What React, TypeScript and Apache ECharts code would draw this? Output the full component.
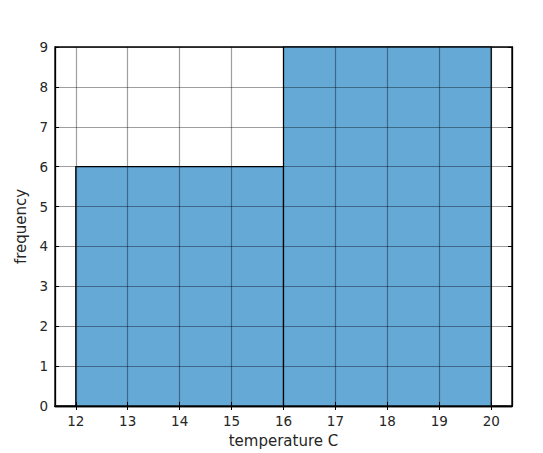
import { useEffect, useRef } from 'react';
import * as echarts from 'echarts';

const binEdges = [12, 16, 20];
const frequencies = [6, 9];
const xTicks = [12, 13, 14, 15, 16, 17, 18, 19, 20];
const yTicks = [0, 1, 2, 3, 4, 5, 6, 7, 8, 9];

const textColor = '#262626';
const font = 'DejaVu Sans';

export default function App() {
  const ref = useRef<HTMLDivElement | null>(null);

  useEffect(() => {
    if (!ref.current) return;
    const chart = echarts.init(ref.current, undefined, { renderer: 'svg' });
    const bins = frequencies.map((f, i) => [binEdges[i], binEdges[i + 1], f]);
    const grid = { left: 55, right: 31, top: 47, bottom: 45, show: true, borderColor: '#000', borderWidth: 1.3, backgroundColor: 'transparent' };
    const split = { show: true, lineStyle: { color: 'rgba(0,0,0,0.38)', width: 1.2 } };
    chart.setOption({
      animation: false,
      backgroundColor: '#fff',
      textStyle: { fontFamily: font },
      grid,
      xAxis: [
        {
          type: 'value', min: 11.6, max: 20.4, interval: 1, z: 10,
          name: 'temperature C', nameLocation: 'middle', nameGap: 27,
          nameTextStyle: { color: textColor, fontSize: 15, fontFamily: font },
          axisLine: { show: true, onZero: false, lineStyle: { color: '#000', width: 1.3 } },
          axisTick: { show: true, inside: true, length: 4, lineStyle: { color: '#000' }, customValues: xTicks },
          axisLabel: { color: textColor, fontSize: 13.5, margin: 8, fontFamily: font, customValues: xTicks },
          splitLine: split,
        },
        {
          type: 'value', position: 'top', min: 11.6, max: 20.4, z: 10,
          axisLine: { show: true, lineStyle: { color: '#000', width: 1.3 } },
          axisTick: { show: true, inside: true, length: 4, lineStyle: { color: '#000' }, customValues: xTicks },
          axisLabel: { show: false },
          splitLine: { show: false },
        },
      ],
      yAxis: [
        {
          type: 'value', min: 0, max: 9, interval: 1, z: 10,
          name: 'frequency', nameLocation: 'middle', nameGap: 21,
          nameTextStyle: { color: textColor, fontSize: 15, fontFamily: font },
          axisLine: { show: true, lineStyle: { color: '#000', width: 1.3 } },
          axisTick: { show: true, inside: true, length: 4, lineStyle: { color: '#000' } },
          axisLabel: { color: textColor, fontSize: 13.5, margin: 7, fontFamily: font, formatter: (v: number) => (yTicks.includes(v) ? String(v) : '') },
          splitLine: split,
        },
        {
          type: 'value', position: 'right', min: 0, max: 9, interval: 1, z: 10,
          axisLine: { show: true, lineStyle: { color: '#000', width: 1.3 } },
          axisTick: { show: true, inside: true, length: 4, lineStyle: { color: '#000' } },
          axisLabel: { show: false },
          splitLine: { show: false },
        },
      ],
      series: [
        {
          type: 'custom',
          z: 1,
          data: bins,
          encode: { x: [0, 1], y: 2 },
          renderItem: (_params: any, api: any) => {
            const p0 = api.coord([api.value(0), 0]);
            const p1 = api.coord([api.value(1), api.value(2)]);
            return {
              type: 'rect',
              shape: { x: p0[0], y: p1[1], width: p1[0] - p0[0], height: p0[1] - p1[1] },
              style: { fill: '#65a9d7', stroke: '#000', lineWidth: 1.2 },
            };
          },
        },
      ],
    });
    return () => chart.dispose();
  }, []);

  return <div ref={ref} style={{ position: 'fixed', left: 0, top: 0, width: 543, height: 453 }} />;
}
